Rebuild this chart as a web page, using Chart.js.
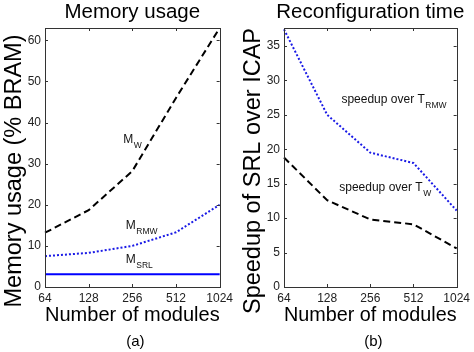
<!DOCTYPE html>
<html>
<head>
<meta charset="utf-8">
<script src="https://cdn.jsdelivr.net/npm/chart.js@4"></script>
<style>
  body { margin: 0; background: #fff; }
  #wrap { position: relative; width: 474px; height: 352px; }
  canvas { position: absolute; top: 0; }
</style>
</head>
<body>
<div id="wrap">
  <canvas id="memChart" width="237" height="352" style="left:0"></canvas>
  <canvas id="timeChart" width="237" height="352" style="left:237px"></canvas>
</div>
<script>
// categories (number of modules)
const modules = ['64', '128', '256', '512', '1024'];

// (a) memory usage, % BRAM
const memW   = [13.2, 18.7, 28.2, 46.0, 63.0];
const memRMW = [7.5, 8.3, 10.0, 13.3, 20.0];
const memSRL = [3.1, 3.1, 3.1, 3.1, 3.1];
const memTicks = [0, 10, 20, 30, 40, 50, 60];

// (b) speedup of SRL over ICAP
const speedRMW = [37.4, 25.0, 19.5, 18.0, 11.1];
const speedW   = [18.8, 12.6, 9.8, 9.1, 5.6];
const speedTicks = [0, 5, 10, 15, 20, 25, 30, 35];

// text labels placed in data space: [main, subscript, category index, value]
const memNotes   = [['M', 'W', 1.79, 35], ['M', 'RMW', 1.85, 14], ['M', 'SRL', 1.85, 5.8]];
const speedNotes = [['speedup over T', 'RMW', 1.33, 26.7], ['speedup over T', 'W', 1.28, 14.0]];

const FONT = '"Liberation Sans", Arial, sans-serif';

Chart.defaults.font.family = FONT;
Chart.defaults.color = '#222';

// matlab style box with inward ticks + titles / caption + text notes
const boxPlugin = {
  id: 'box',
  afterDraw(chart, args, opts) {
    const ctx = chart.ctx;
    const a = chart.chartArea;
    const xs = chart.scales.x, ys = chart.scales.y;
    ctx.save();
    ctx.strokeStyle = '#333';
    ctx.lineWidth = 1;
    ctx.strokeRect(Math.round(a.left) + 0.5, Math.round(a.top) + 0.5,
                   Math.round(a.right - a.left), Math.round(a.bottom - a.top));
    ctx.beginPath();
    xs.ticks.forEach((t, i) => {
      const x = Math.round(xs.getPixelForTick(i)) + 0.5;
      ctx.moveTo(x, a.bottom); ctx.lineTo(x, a.bottom - 3);
      ctx.moveTo(x, a.top); ctx.lineTo(x, a.top + 3);
    });
    ys.ticks.forEach(t => {
      const y = Math.round(ys.getPixelForValue(t.value)) + 0.5;
      ctx.moveTo(a.left, y); ctx.lineTo(a.left + 3, y);
      ctx.moveTo(a.right, y); ctx.lineTo(a.right - 3, y);
    });
    ctx.stroke();

    const cx = (a.left + a.right) / 2;
    ctx.fillStyle = '#000';
    ctx.textAlign = 'center';
    ctx.textBaseline = 'middle';
    ctx.font = '20.5px ' + FONT;
    ctx.fillText(opts.title, cx, 12);
    ctx.font = '15px ' + FONT;
    ctx.fillText(opts.caption, cx + 3, 342);

    // y axis title, a bit lower than the plot centre as in the original
    ctx.save();
    ctx.translate(opts.yTitleX, 171);
    ctx.rotate(-Math.PI / 2);
    ctx.font = '23.5px ' + FONT;
    ctx.fillText(opts.yTitle, 0, 0);
    ctx.restore();

    ctx.textAlign = 'left';
    ctx.textBaseline = 'alphabetic';
    ctx.fillStyle = '#111';
    opts.notes.forEach(n => {
      const x = xs.getPixelForValue(n[2]);
      const y = ys.getPixelForValue(n[3]);
      ctx.font = '12px ' + FONT;
      ctx.fillText(n[0], x, y);
      const w = ctx.measureText(n[0]).width;
      ctx.font = '8.5px ' + FONT;
      ctx.fillText(n[1], x + w + 0.5, y + 5);
    });
    ctx.restore();
  }
};

function makeChart(id, datasets, yMax, yTicks, leftW, rightPad, box) {
  return new Chart(document.getElementById(id).getContext('2d'), {
    type: 'line',
    data: { labels: modules, datasets: datasets },
    options: {
      responsive: false,
      animation: false,
      devicePixelRatio: 1,
      layout: { padding: { left: 0, right: rightPad, top: 28, bottom: 20 } },
      elements: { point: { radius: 0 }, line: { tension: 0, borderWidth: 2 } },
      plugins: { legend: { display: false }, tooltip: { enabled: false }, box: box },
      scales: {
        x: {
          offset: false,
          grid: { display: false, drawTicks: false },
          border: { display: false },
          ticks: { font: { size: 12 }, color: '#222', padding: 4, maxRotation: 0, autoSkip: false },
          title: { display: true, text: 'Number of modules', color: '#000',
                   font: { size: 20.5 }, padding: { top: 0, bottom: 4 } },
          afterFit: s => { s.height = 45; }
        },
        y: {
          min: 0, max: yMax,
          grid: { display: false, drawTicks: false },
          border: { display: false },
          ticks: { font: { size: 12 }, color: '#222', padding: 4, autoSkip: false },
          afterBuildTicks: s => { s.ticks = yTicks.map(v => ({ value: v })); },
          title: { display: false },
          afterFit: s => { s.width = leftW; }
        }
      }
    },
    plugins: [boxPlugin]
  });
}

makeChart('memChart', [
  { data: memW, borderColor: '#000', borderDash: [7, 4] },
  { data: memRMW, borderColor: '#1a1ae6', borderDash: [2, 2] },
  { data: memSRL, borderColor: '#0000ff' }
], 63, memTicks, 45, 17,
  { title: 'Memory usage', caption: '(a)', notes: memNotes,
    yTitle: 'Memory usage (% BRAM)', yTitleX: 15 });

makeChart('timeChart', [
  { data: speedRMW, borderColor: '#1a1ae6', borderDash: [2, 2] },
  { data: speedW, borderColor: '#000', borderDash: [7, 4] }
], 37.6, speedTicks, 47, 15,
  { title: 'Reconfiguration time', caption: '(b)', notes: speedNotes,
    yTitle: 'Speedup of SRL over ICAP', yTitleX: 17 });
</script>
</body>
</html>
